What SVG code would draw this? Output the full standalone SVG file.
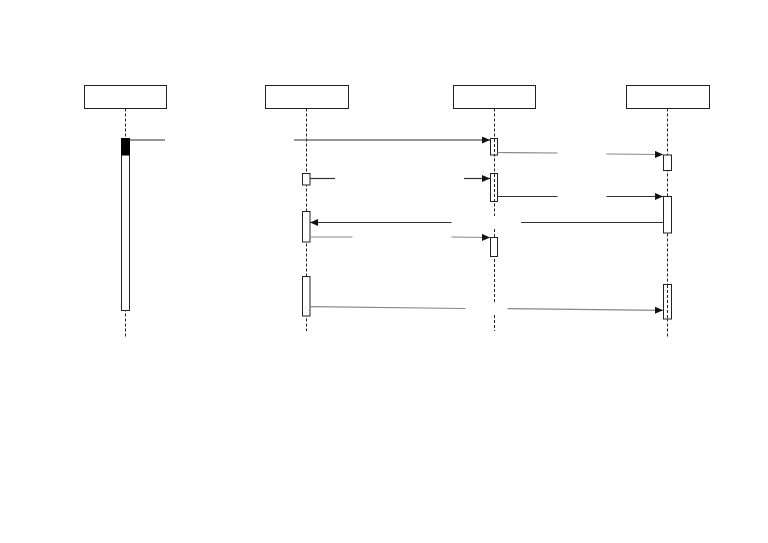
<svg xmlns="http://www.w3.org/2000/svg" width="768" height="543" viewBox="0 0 768 543">
<style>
.box{fill:#fff;stroke:#222;stroke-width:1}
.life{stroke:#222;stroke-width:1;stroke-dasharray:3 2;fill:none}
.act{fill:#fff;stroke:#222;stroke-width:1}
.msg{stroke:#333;stroke-width:1.2;fill:none}
.ret{stroke:#888;stroke-width:1.2;fill:none}
</style>
<defs>
<marker id="ah" markerWidth="8" markerHeight="7" refX="8" refY="3.5" orient="auto" markerUnits="userSpaceOnUse">
<path d="M0,0 L8,3.5 L0,7 Z" fill="#111"/>
</marker>
</defs>
<rect width="768" height="543" fill="#fff"/>
<g id="lifelines">
<line class="life" x1="125.5" y1="108.5" x2="125.5" y2="337"/>
<line class="life" x1="306.5" y1="108.5" x2="306.5" y2="331"/>
<line class="life" x1="494.5" y1="108.5" x2="494.5" y2="216"/>
<line class="life" x1="494.5" y1="229" x2="494.5" y2="302"/>
<line class="life" x1="494.5" y1="315" x2="494.5" y2="331"/>
<line class="life" x1="667.5" y1="108.5" x2="667.5" y2="337"/>
</g>
<g id="node-1"><rect class="box" x="84.5" y="85.5" width="82" height="23"/></g>
<g id="node-2"><rect class="box" x="265.5" y="85.5" width="83" height="23"/></g>
<g id="node-3"><rect class="box" x="453.5" y="85.5" width="82" height="23"/></g>
<g id="node-4"><rect class="box" x="626.5" y="85.5" width="83" height="23"/></g>
<g id="activations">
<rect class="act" x="121.5" y="138.5" width="8" height="172"/>
<rect x="121.5" y="138.5" width="8" height="16.5" fill="#000" stroke="#000"/>
<rect class="act" x="302.5" y="173.5" width="7.5" height="11.5"/>
<rect class="act" x="302.5" y="211.5" width="7.5" height="30.5"/>
<rect class="act" x="302.5" y="276.5" width="7.5" height="39.5"/>
<rect class="act" x="490.5" y="138.5" width="7" height="16.5"/>
<line class="life" x1="494.5" y1="139" x2="494.5" y2="155"/>
<rect class="act" x="490.5" y="173.5" width="7" height="28"/>
<line class="life" x1="494.5" y1="174" x2="494.5" y2="201"/>
<rect class="act" x="490.5" y="237.5" width="7" height="19"/>
<rect class="act" x="663.5" y="155" width="8" height="15.5"/>
<rect class="act" x="663.5" y="196.5" width="8" height="36.5"/>
<rect class="act" x="663.5" y="284.5" width="8" height="34.5"/>
<line class="life" x1="667.5" y1="285" x2="667.5" y2="318"/>
</g>
<g id="connectors">
<line class="msg" x1="129.5" y1="140" x2="165" y2="140"/>
<line class="msg" x1="294" y1="140" x2="490" y2="140" marker-end="url(#ah)"/>
<line class="msg" x1="310" y1="178.5" x2="335" y2="178.5"/>
<line class="msg" x1="464" y1="178.5" x2="490" y2="178.5" marker-end="url(#ah)"/>
<line class="ret" x1="497.5" y1="152.5" x2="557.5" y2="153"/>
<line class="ret" x1="606.5" y1="154" x2="663" y2="154.5" marker-end="url(#ah)"/>
<line class="msg" x1="497.5" y1="196.5" x2="557.5" y2="196.5"/>
<line class="msg" x1="606.5" y1="196.5" x2="663" y2="196.5" marker-end="url(#ah)"/>
<line class="msg" x1="663.5" y1="222.5" x2="521" y2="222.5"/>
<line class="msg" x1="451.5" y1="222.5" x2="310" y2="222.5" marker-end="url(#ah)"/>
<line class="ret" x1="310" y1="237" x2="352.5" y2="237"/>
<line class="ret" x1="451.5" y1="237" x2="490" y2="237.5" marker-end="url(#ah)"/>
<line class="ret" x1="310" y1="306.7" x2="465.5" y2="308.5"/>
<line class="ret" x1="507.5" y1="308.7" x2="663" y2="310.3" marker-end="url(#ah)"/>
</g>
</svg>
